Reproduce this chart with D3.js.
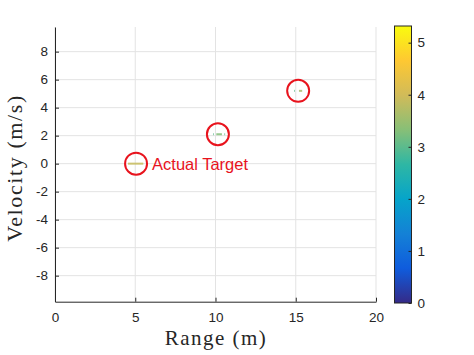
<!DOCTYPE html>
<html><head><meta charset="utf-8">
<script src="https://cdn.jsdelivr.net/npm/d3@7"></script>
<style>body{margin:0;background:#fff}svg{display:block}</style>
</head><body>
<script>
// ---- data ----
const xTicks = [0, 5, 10, 15, 20];
const yTicks = [-8, -6, -4, -2, 0, 2, 4, 6, 8];
const cTicks = [0, 1, 2, 3, 4, 5];
const targetRange = [5.05, 10.15, 15.15];
const targetVel = [0, 2.1, 5.2];
// detection blips (range start, range end, velocity, magnitude)
const blipR0 = [4.55, 9.85, 10.05, 10.55, 14.9, 15.2];
const blipR1 = [5.5, 9.9, 10.4, 10.6, 14.95, 15.4];
const blipV = [0, 2.1, 2.1, 2.1, 5.2, 5.2];
const blipMag = [3.9, 3.0, 3.3, 3.0, 3.0, 3.6];
const labelText = "Actual Target";

const W = 474, H = 355;
const FONT = "Arial, 'Liberation Sans', Helvetica, sans-serif";
const SERIF = "'Liberation Serif', 'Times New Roman', serif";
const svg = d3.select("body").append("svg").attr("width", W).attr("height", H)
  .style("font-family", FONT);

const x = d3.scaleLinear().domain([0, 20]).range([55, 376]);
const y = d3.scaleLinear().domain([-9.86, 9.76]).range([301.7, 27]);
const parula = ["#352a87","#0f5cdd","#1481d6","#06a4ca","#2eb7a4","#87bf77","#d1bb59","#fec832","#f9fb0e"];
const cDom = [0, 5.32];
const cs = d3.scaleLinear().domain(parula.map((d,i)=>cDom[0]+i*(cDom[1]-cDom[0])/(parula.length-1))).range(parula);
const fmt = d => String(d);

// grid
const g = svg.append("g");
g.selectAll(".gx").data(xTicks).join("line")
  .attr("x1", d=>x(d)).attr("x2", d=>x(d)).attr("y1", y.range()[0]).attr("y2", y.range()[1])
  .attr("stroke", "#e3e3e3").attr("stroke-width", 1);
g.selectAll(".gy").data(yTicks).join("line")
  .attr("y1", d=>y(d)).attr("y2", d=>y(d)).attr("x1", x.range()[0]).attr("x2", x.range()[1])
  .attr("stroke", "#e3e3e3").attr("stroke-width", 1);

// blips
svg.selectAll(".blip").data(blipV).join("rect")
  .attr("x", (d,i)=>x(blipR0[i])).attr("width", (d,i)=>x(blipR1[i])-x(blipR0[i]))
  .attr("y", d=>y(d)-1).attr("height", 2)
  .attr("fill", (d,i)=>cs(blipMag[i])).attr("opacity", 0.85);

// axes
const xAxis = d3.axisBottom(x).tickValues(xTicks).tickFormat(fmt).tickSizeInner(-4).tickSizeOuter(0).tickPadding(11);
const yAxis = d3.axisLeft(y).tickValues(yTicks).tickFormat(fmt).tickSizeInner(-4).tickSizeOuter(0).tickPadding(6);
const ax = svg.append("g").attr("transform", `translate(0,${y.range()[0]})`).call(xAxis);
const ay = svg.append("g").attr("transform", `translate(${x.range()[0]},0)`).call(yAxis);
[ax, ay].forEach(a => {
  a.attr("font-family", FONT).attr("font-size", 13.5);
  a.select(".domain").attr("stroke", "#262626");
  a.selectAll(".tick line").attr("stroke", "#262626");
  a.selectAll(".tick text").attr("fill", "#262626");
});
ay.selectAll(".tick text").attr("x", -7);

// circles
svg.selectAll(".tc").data(targetRange).join("circle")
  .attr("cx", d=>x(d)).attr("cy", (d,i)=>y(targetVel[i])).attr("r", 11)
  .attr("fill", "none").attr("stroke", "#e8131d").attr("stroke-width", 2);
svg.append("text").attr("x", x(targetRange[0]) + 16).attr("y", y(targetVel[0]) + 6)
  .attr("fill", "#e8131d").style("font-size", "16.5px").text(labelText);

// axis labels
svg.append("text").attr("x", 216).attr("y", 344.5)
  .attr("text-anchor", "middle").style("font-family", SERIF).style("letter-spacing", "1.5px")
  .style("font-size", "21px").attr("fill", "#262626").text("Range (m)");
svg.append("text").attr("transform", `translate(22,168) rotate(-90)`)
  .attr("text-anchor", "middle").style("font-family", SERIF).style("letter-spacing", "1.6px")
  .style("font-size", "22px").attr("fill", "#262626").text("Velocity (m/s)");

// colorbar
const cbX = 394.5, cbW = 17;
const cy = d3.scaleLinear().domain(cDom).range([303, 26]);
const defs = svg.append("defs");
const grad = defs.append("linearGradient").attr("id", "cbg").attr("x1", 0).attr("x2", 0).attr("y1", 1).attr("y2", 0);
grad.selectAll("stop").data(parula).join("stop")
  .attr("offset", (d,i)=>i/(parula.length-1)).attr("stop-color", d=>d);
svg.append("rect").attr("x", cbX).attr("y", cy.range()[1]).attr("width", cbW)
  .attr("height", cy.range()[0]-cy.range()[1]).attr("fill", "url(#cbg)")
  .attr("stroke", "#262626").attr("stroke-width", 1);
const cAxis = d3.axisRight(cy).tickValues(cTicks).tickFormat(fmt).tickSizeInner(-3).tickSizeOuter(0).tickPadding(6);
const ca = svg.append("g").attr("transform", `translate(${cbX+cbW},0)`).call(cAxis)
  .attr("font-family", FONT).attr("font-size", 13.5);
ca.select(".domain").remove();
ca.selectAll(".tick line").attr("stroke", "#262626");
ca.selectAll(".tick text").attr("fill", "#262626");
</script>
</body></html>
